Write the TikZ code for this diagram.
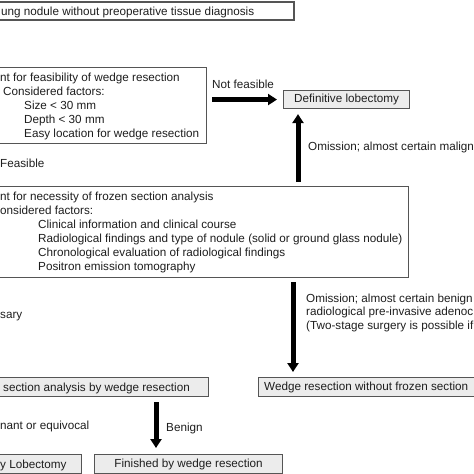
\documentclass[tikz,border=0pt]{standalone}
\usepackage{fontspec}
\setmainfont{Liberation Sans}
\usetikzlibrary{arrows.meta}
\definecolor{boxline}{HTML}{555555}
\definecolor{boxgray}{HTML}{ECECEC}
\definecolor{ink}{HTML}{1E1E1E}
\tikzset{
  box/.style={draw=boxline, line width=1.1pt, fill=white, rectangle, inner sep=0pt, anchor=north west, font=\fontsize{11.7}{14}\selectfont, text=ink},
  graybox/.style={box, fill=boxgray},
  txt/.style={inner sep=0pt, anchor=base west, font=\fontsize{11.7}{14}\selectfont, text=ink},
  arr/.style={draw=black, line width=5pt, -{Triangle[width=11pt,length=9pt]}},
}
\begin{document}
\begin{tikzpicture}[x=1pt,y=-1pt]
\useasboundingbox (0,0) rectangle (474,474);
\clip (0,0) rectangle (474,474);
% boxes
\node[box, line width=1.6pt, minimum width=303pt, minimum height=18pt] (top) at (-10,1) {};
\node[box, minimum width=216pt, minimum height=76pt] (feas) at (-10,67) {};
\node[graybox, minimum width=126pt, minimum height=18pt] (lob) at (283,90) {Definitive lobectomy};
\node[box, minimum width=418pt, minimum height=91pt] (need) at (-10,186) {};
\node[graybox, minimum width=218pt, minimum height=19pt] (frz) at (-10,377) {};
\node[graybox, minimum width=232pt, minimum height=19pt] (wedge) at (258,377) {};
\node[graybox, minimum width=91pt, minimum height=19pt] (ylob) at (-10,454) {};
\node[graybox, minimum width=188pt, minimum height=19pt] (fin) at (94,454) {Finished by wedge resection};
% texts
\node[txt] (t0) at (1,15) {ung nodule without preoperative tissue diagnosis};
\node[txt] (f1) at (0,81) {nt for feasibility of wedge resection};
\node[txt] (f2) at (3,95) {Considered factors:};
\node[txt] (f3) at (24,109) {Size < 30 mm};
\node[txt] (f4) at (24,123) {Depth < 30 mm};
\node[txt] (f5) at (24,137) {Easy location for wedge resection};
\node[txt] (lnf) at (212,88) {Not feasible};
\node[txt] (lom1) at (308,150) {Omission; almost certain malign};
\node[txt] (lfe) at (0,167) {Feasible};
\node[txt] (n1) at (0,200) {nt for necessity of frozen section analysis};
\node[txt] (n2) at (0,214) {onsidered factors:};
\node[txt] (n3) at (38,228) {Clinical information and clinical course};
\node[txt] (n4) at (38,242) {Radiological findings and type of nodule (solid or ground glass nodule)};
\node[txt] (n5) at (38,256) {Chronological evaluation of radiological findings};
\node[txt] (n6) at (38,270) {Positron emission tomography};
\node[txt] (lsary) at (0,318) {sary};
\node[txt] (lb1) at (306,302) {Omission; almost certain benign};
\node[txt] (lb2) at (306,315) {radiological pre-invasive adenoc};
\node[txt] (lb3) at (306,329) {(Two-stage surgery is possible if};
\node[txt] (tfrz) at (3,391) {section analysis by wedge resection};
\node[txt] (twedge) at (264,390) {Wedge resection without frozen section};
\node[txt] (lmal) at (0,429) {nant or equivocal};
\node[txt] (lben) at (166,431) {Benign};
\node[txt] (tylob) at (0,468) {y Lobectomy};
% connectors
\coordinate (upx) at (298,0);
\coordinate (dnx) at (293,0);
\coordinate (bnx) at (156,0);
\draw[arr, shorten <=5pt, shorten >=6pt] (feas.east |- lob.west) -- (lob.west);
\draw[arr, shorten <=4pt, shorten >=5pt] (upx |- need.north) -- (upx |- lob.south);
\draw[arr, shorten <=4pt, shorten >=5pt] (dnx |- need.south) -- (dnx |- wedge.north);
\draw[arr, shorten <=5pt, shorten >=6pt] (bnx |- frz.south) -- (bnx |- fin.north);
\end{tikzpicture}
\end{document}
